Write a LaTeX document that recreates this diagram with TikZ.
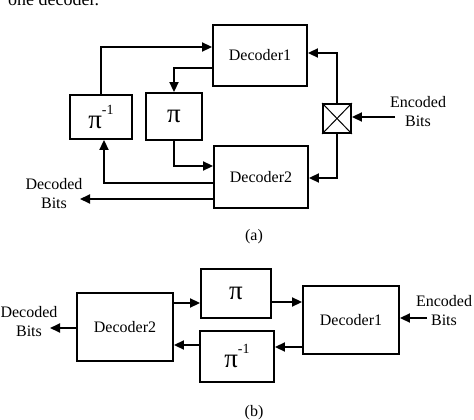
\documentclass[tikz,border=0pt]{standalone}
\usepackage{fontspec}
\setmainfont{Liberation Serif}
\usetikzlibrary{arrows.meta}
\newcommand\mypi{{\fontsize{27}{27}\selectfont π}}
\newcommand\mypiinv{{\fontsize{27}{27}\selectfont π}\raisebox{14pt}{\fontsize{14}{14}\selectfont -1}}
\begin{document}
\begin{tikzpicture}[x=1pt,y=-1pt,
  blk/.style={draw, line width=1.9pt, inner sep=0pt, font=\fontsize{16}{19}\selectfont},
  arr/.style={line width=1.9pt, -{Triangle[length=10pt,width=9pt]}},
  lbl/.style={align=center, font=\fontsize{16}{19}\selectfont, inner sep=0pt}]
\useasboundingbox (0,0) rectangle (474,420);

\node[anchor=base west, inner sep=0pt, font=\fontsize{18}{20}\selectfont] (cap) at (8,6) {one decoder.};

% ---------- (a) ----------
\node[blk, minimum width=94pt, minimum height=61pt] (aD1) at (260,55.5) {Decoder1};
\node[blk, minimum width=62pt, minimum height=44pt] (api) at (101,117) {\mypiinv};
\node[blk, minimum width=56pt, minimum height=47pt] (apn) at (174,116.5) {\mypi};
\node[blk, minimum width=94pt, minimum height=62pt] (aD2) at (261,177) {Decoder2};
\node[draw, line width=1.9pt, minimum width=28pt, minimum height=29pt, inner sep=0pt] (sw) at (337,118.5) {};
\draw[line width=1pt] (sw.north west) -- (sw.south east) (sw.north east) -- (sw.south west);

\coordinate (adec) at (80,199);
\coordinate (aenc) at (395,117);
\node[lbl] (adect) at (54,194) {Decoded\\Bits};
\node[lbl] (aenct) at (418,111.5) {Encoded\\Bits};
\node[lbl] (alab) at (254,237) {(a)};

\draw[arr] (api.north) |- (aD1.west |- 0,47);
\draw[arr] (aD1.west |- 0,68) -| (apn.north);
\draw[arr] (apn.south) |- (aD2.west |- 0,166);
\draw[arr] (aD2.west |- 0,183) -| ([xshift=3pt]api.south);
\draw[arr] (aD2.west |- 0,199) -- (adec);
\draw[arr] (sw.north) |- (aD1.east |- 0,53);
\draw[arr] (sw.south) |- (aD2.east |- 0,178);
\draw[arr] (aenc) -- (sw.east |- aenc);

% ---------- (b) ----------
\node[blk, minimum width=96pt, minimum height=68pt] (bD2) at (125,327) {Decoder2};
\node[blk, minimum width=70pt, minimum height=49pt] (bpn) at (236,293.5) {\mypi};
\node[blk, minimum width=74pt, minimum height=51pt] (bpi) at (237,356.5) {\mypiinv};
\node[blk, minimum width=96pt, minimum height=68pt] (bD1) at (351,320) {Decoder1};

\coordinate (bdec) at (50,328);
\coordinate (benc) at (427,318);
\node[lbl] (bdect) at (29,321.5) {Decoded\\Bits};
\node[lbl] (benct) at (444,310.5) {Encoded\\Bits};
\node[lbl] (blab) at (254,413) {(b)};

\draw[arr] (bD2.east |- 0,303) -- (bpn.west |- 0,303);
\draw[arr] (bpn.east |- 0,302) -- (bD1.west |- 0,302);
\draw[arr] (bD1.west |- 0,347) -- (bpi.east |- 0,347);
\draw[arr] (bpi.west |- 0,345) -- (bD2.east |- 0,345);
\draw[arr] (bD2.west |- 0,328) -- (bdec);
\draw[arr] (benc) -- (bD1.east |- benc);
\end{tikzpicture}
\end{document}
